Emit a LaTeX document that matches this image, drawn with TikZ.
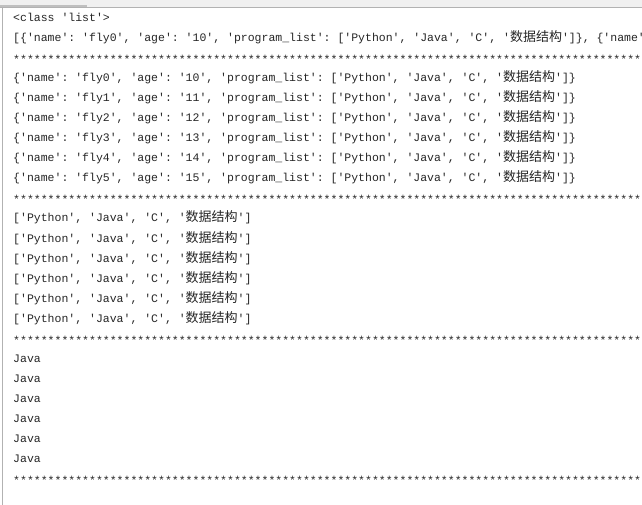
\documentclass[tikz,border=0pt]{standalone}
\usepackage{fontspec}
\setmonofont{Liberation Mono}
\newfontfamily\cjk{Noto Sans CJK SC}
\newcommand{\zh}[1]{{\cjk\fontsize{13}{13}\selectfont #1}}
\begin{document}
\begin{tikzpicture}[x=1pt,y=-1pt,
  ln/.style={anchor=base west,inner sep=0pt,font=\ttfamily\fontsize{11.5}{12}\selectfont,text=black!85}]
\useasboundingbox (0,0) rectangle (642,505);
\fill[white] (0,0) rectangle (642,505);
\fill[black!6] (0,0) rectangle (642,7);
\fill[black!25] (0,5) rectangle (87,7);
\draw[black!30] (0,7.5) -- (642,7.5);
\draw[black!30] (2.5,7.5) -- (2.5,505);
\begin{scope}
\clip (3,8) rectangle (642,505);
\def\st{****************************************************************************************************}
\node[ln] (a1) at (13,22) {<class 'list'>};
\node[ln] (a2) at (13,42) {[\{'name': 'fly0', 'age': '10', 'program\_list': ['Python', 'Java', 'C', '\zh{数据结构}']\}, \{'name'};
\node[ln] (s1) at (13,64) {\st};
\foreach \i/\y in {0/82,1/102,2/122,3/142,4/162,5/182}
  \node[ln] (b\i) at (13,\y) {\{'name': 'fly\i', 'age': '1\i', 'program\_list': ['Python', 'Java', 'C', '\zh{数据结构}']\}};
\node[ln] (s2) at (13,204) {\st};
\foreach \i/\y in {0/222,1/242,2/262,3/282,4/302,5/322}
  \node[ln] (c\i) at (13,\y) {['Python', 'Java', 'C', '\zh{数据结构}']};
\node[ln] (s3) at (13,344) {\st};
\foreach \i/\y in {0/362,1/382,2/402,3/422,4/442,5/462}
  \node[ln] (d\i) at (13,\y) {Java};
\node[ln] (s4) at (13,484) {\st};
\end{scope}
\end{tikzpicture}
\end{document}
